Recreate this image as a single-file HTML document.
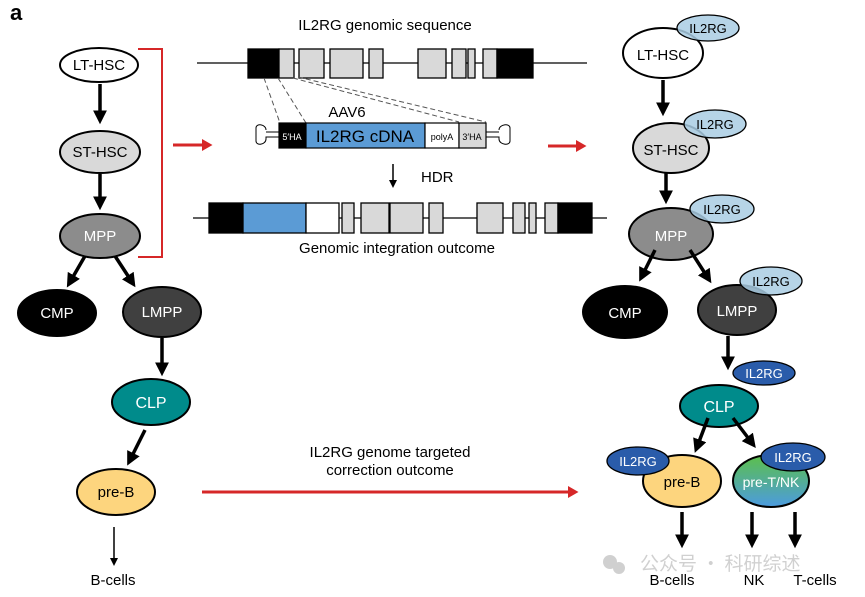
<!DOCTYPE html>
<html><head><meta charset="utf-8"><style>
body{margin:0;background:#fff}
svg{display:block;font-family:"Liberation Sans",Arial,sans-serif}
</style></head><body>
<svg width="865" height="597" viewBox="0 0 865 597" xmlns="http://www.w3.org/2000/svg">
<defs>
<marker id="ah" markerWidth="4" markerHeight="4" refX="2.2" refY="2" orient="auto" markerUnits="strokeWidth"><path d="M0,0 L4,2 L0,4 z" fill="#000"/></marker>
<marker id="ahs" markerWidth="8" markerHeight="8" refX="5" refY="4" orient="auto" markerUnits="userSpaceOnUse"><path d="M0,0 L8,4 L0,8 z" fill="#000"/></marker>
<marker id="ar" markerWidth="3.5" markerHeight="4" refX="2" refY="2" orient="auto" markerUnits="strokeWidth"><path d="M0,0 L3.5,2 L0,4 z" fill="#d62728"/></marker>
<linearGradient id="gt" x1="0" y1="0" x2="0" y2="1"><stop offset="0" stop-color="#5cc04a"/><stop offset="1" stop-color="#4c9be0"/></linearGradient>
</defs>
<text x="10" y="20" font-size="22" font-weight="bold">a</text>

<!-- left column -->
<g stroke="#000" stroke-width="2">
<ellipse cx="99" cy="65" rx="39" ry="17" fill="#fff"/>
<ellipse cx="100" cy="152" rx="40" ry="21" fill="#d9d9d9"/>
<ellipse cx="100" cy="236" rx="40" ry="22" fill="#8c8c8c"/>
<ellipse cx="57" cy="313" rx="39" ry="23" fill="#000"/>
<ellipse cx="162" cy="312" rx="39" ry="25" fill="#404040"/>
<ellipse cx="151" cy="402" rx="39" ry="23" fill="#008b8b"/>
<ellipse cx="116" cy="492" rx="39" ry="23" fill="#fdd57e"/>
</g>
<g stroke="#000" stroke-width="3.5" fill="none" marker-end="url(#ah)">
<line x1="100" y1="84" x2="100" y2="118"/>
<line x1="100" y1="174" x2="100" y2="204"/>
<line x1="85" y1="256" x2="70" y2="282"/>
<line x1="115" y1="256" x2="132" y2="282"/>
<line x1="162" y1="338" x2="162" y2="370"/>
<line x1="145" y1="430" x2="130" y2="460"/>
</g>
<line x1="114" y1="527" x2="114" y2="563" stroke="#000" stroke-width="1.5" marker-end="url(#ahs)"/>
<g font-size="15" text-anchor="middle">
<text x="99" y="70">LT-HSC</text>
<text x="100" y="157">ST-HSC</text>
<text x="100" y="241" fill="#fff">MPP</text>
<text x="57" y="318" fill="#fff">CMP</text>
<text x="162" y="317" fill="#fff">LMPP</text>
<text x="151" y="408" fill="#fff" font-size="16">CLP</text>
<text x="116" y="497">pre-B</text>
<text x="113" y="585">B-cells</text>
</g>
<polyline points="138,49 162,49 162,257 138,257" fill="none" stroke="#d62728" stroke-width="2"/>
<line x1="173" y1="145" x2="208" y2="145" stroke="#d62728" stroke-width="3" marker-end="url(#ar)"/>
<line x1="548" y1="146" x2="582" y2="146" stroke="#d62728" stroke-width="3" marker-end="url(#ar)"/>
<line x1="202" y1="492" x2="574" y2="492" stroke="#d62728" stroke-width="3" marker-end="url(#ar)"/>

<!-- middle -->
<g font-size="15" text-anchor="middle">
<text x="385" y="30">IL2RG genomic sequence</text>
<text x="347" y="117">AAV6</text>
<text x="397" y="253">Genomic integration outcome</text>
<text x="390" y="457">IL2RG genome targeted</text>
<text x="390" y="475">correction outcome</text>
<text x="421" y="182" text-anchor="start">HDR</text>
</g>
<line x1="197" y1="63" x2="587" y2="63" stroke="#000" stroke-width="1.3"/>
<g stroke="#000" stroke-width="1.3" fill="#d9d9d9">
<rect x="248" y="49" width="31" height="29" fill="#000"/>
<rect x="279" y="49" width="15" height="29"/>
<rect x="299" y="49" width="25" height="29"/>
<rect x="330" y="49" width="33" height="29"/>
<rect x="369" y="49" width="14" height="29"/>
<rect x="418" y="49" width="28" height="29"/>
<rect x="452" y="49" width="14" height="29"/>
<rect x="468" y="49" width="7" height="29"/>
<rect x="483" y="49" width="14" height="29"/>
<rect x="497" y="49" width="36" height="29" fill="#000"/>
</g>
<g stroke="#555" stroke-width="1" stroke-dasharray="5,3">
<line x1="264" y1="78" x2="280" y2="123"/>
<line x1="278" y1="78" x2="306" y2="123"/>
<line x1="293" y1="78" x2="459" y2="122"/>
<line x1="298" y1="77" x2="486" y2="122"/>
</g>
<g stroke="#000" stroke-width="1" fill="none">
<path d="M279,132 L266,132 M266,130 C266,124 256,123 256,128 L256,141 C256,146 266,145 266,139 L266,137 L279,137"/>
<path d="M486,132 L499,132 M499,130 C499,124 510,123 510,128 L510,141 C510,146 499,145 499,139 L499,137 L486,137"/>
</g>
<g stroke="#000" stroke-width="1.2">
<rect x="279" y="123" width="27" height="25" fill="#000"/>
<rect x="306" y="123" width="119" height="25" fill="#5b9bd5"/>
<rect x="425" y="123" width="34" height="25" fill="#fff"/>
<rect x="459" y="123" width="27" height="25" fill="#d9d9d9"/>
</g>
<text x="292" y="140" font-size="9" fill="#fff" text-anchor="middle">5′HA</text>
<text x="365" y="142" font-size="17" text-anchor="middle">IL2RG cDNA</text>
<text x="442" y="140" font-size="9" text-anchor="middle">polyA</text>
<text x="472" y="140" font-size="9" text-anchor="middle">3′HA</text>
<line x1="393" y1="164" x2="393" y2="185" stroke="#000" stroke-width="1.5" marker-end="url(#ahs)"/>
<line x1="193" y1="218" x2="607" y2="218" stroke="#000" stroke-width="1.3"/>
<g stroke="#000" stroke-width="1.3" fill="#d9d9d9">
<rect x="209" y="203" width="34" height="30" fill="#000"/>
<rect x="243" y="203" width="63" height="30" fill="#5b9bd5"/>
<rect x="306" y="203" width="33" height="30" fill="#fff"/>
<rect x="342" y="203" width="12" height="30"/>
<rect x="361" y="203" width="28" height="30"/>
<rect x="390" y="203" width="33" height="30"/>
<rect x="429" y="203" width="14" height="30"/>
<rect x="477" y="203" width="26" height="30"/>
<rect x="513" y="203" width="12" height="30"/>
<rect x="529" y="203" width="7" height="30"/>
<rect x="545" y="203" width="13" height="30"/>
<rect x="558" y="203" width="34" height="30" fill="#000"/>
</g>

<!-- right column -->
<g stroke="#000" stroke-width="2">
<ellipse cx="663" cy="53" rx="40" ry="25" fill="#fff"/>
<ellipse cx="671" cy="148" rx="38" ry="25" fill="#d9d9d9"/>
<ellipse cx="671" cy="234" rx="42" ry="26" fill="#8c8c8c"/>
<ellipse cx="625" cy="312" rx="42" ry="26" fill="#000"/>
<ellipse cx="737" cy="310" rx="39" ry="25" fill="#404040"/>
<ellipse cx="719" cy="406" rx="39" ry="21" fill="#008b8b"/>
<ellipse cx="682" cy="481" rx="39" ry="26" fill="#fdd57e"/>
<ellipse cx="771" cy="481" rx="38" ry="26" fill="url(#gt)"/>
</g>
<g stroke="#000" stroke-width="1.3" fill="#a9cce3" fill-opacity="0.85">
<ellipse cx="708" cy="28" rx="31" ry="13"/>
<ellipse cx="715" cy="124" rx="31" ry="14"/>
<ellipse cx="722" cy="209" rx="32" ry="14"/>
<ellipse cx="771" cy="281" rx="31" ry="14"/>
</g>
<g stroke="#000" stroke-width="1.3" fill="#2a5caa">
<ellipse cx="764" cy="373" rx="31" ry="12"/>
<ellipse cx="638" cy="461" rx="31" ry="14"/>
<ellipse cx="793" cy="457" rx="32" ry="14"/>
</g>
<g stroke="#000" stroke-width="3.5" fill="none" marker-end="url(#ah)">
<line x1="663" y1="80" x2="663" y2="110"/>
<line x1="666" y1="172" x2="666" y2="198"/>
<line x1="655" y1="250" x2="642" y2="276"/>
<line x1="690" y1="250" x2="708" y2="278"/>
<line x1="728" y1="336" x2="728" y2="364"/>
<line x1="708" y1="418" x2="697" y2="447"/>
<line x1="733" y1="418" x2="752" y2="443"/>
<line x1="682" y1="512" x2="682" y2="542"/>
<line x1="752" y1="512" x2="752" y2="542"/>
<line x1="795" y1="512" x2="795" y2="542"/>
</g>
<g font-size="15" text-anchor="middle">
<text x="663" y="60">LT-HSC</text>
<text x="671" y="155">ST-HSC</text>
<text x="671" y="241" fill="#fff">MPP</text>
<text x="625" y="318" fill="#fff">CMP</text>
<text x="737" y="316" fill="#fff">LMPP</text>
<text x="719" y="412" fill="#fff" font-size="16">CLP</text>
<text x="682" y="487">pre-B</text>
<text x="771" y="487" fill="#fff" font-size="14">pre-T/NK</text>
<text x="708" y="33" font-size="13">IL2RG</text>
<text x="715" y="129" font-size="13">IL2RG</text>
<text x="722" y="214" font-size="13">IL2RG</text>
<text x="771" y="286" font-size="13">IL2RG</text>
<text x="764" y="378" font-size="13" fill="#fff">IL2RG</text>
<text x="638" y="466" font-size="13" fill="#fff">IL2RG</text>
<text x="793" y="462" font-size="13" fill="#fff">IL2RG</text>
<text x="672" y="585">B-cells</text>
<text x="754" y="585">NK</text>
<text x="815" y="585">T-cells</text>
</g>
<g opacity="0.45">
<circle cx="610" cy="562" r="7" fill="#999"/><circle cx="619" cy="568" r="6" fill="#999"/>
<text x="640" y="570" font-size="19" fill="#999" font-family="'Noto Sans CJK SC',sans-serif">公众号 · 科研综述</text>
</g>
</svg>
</body></html>
